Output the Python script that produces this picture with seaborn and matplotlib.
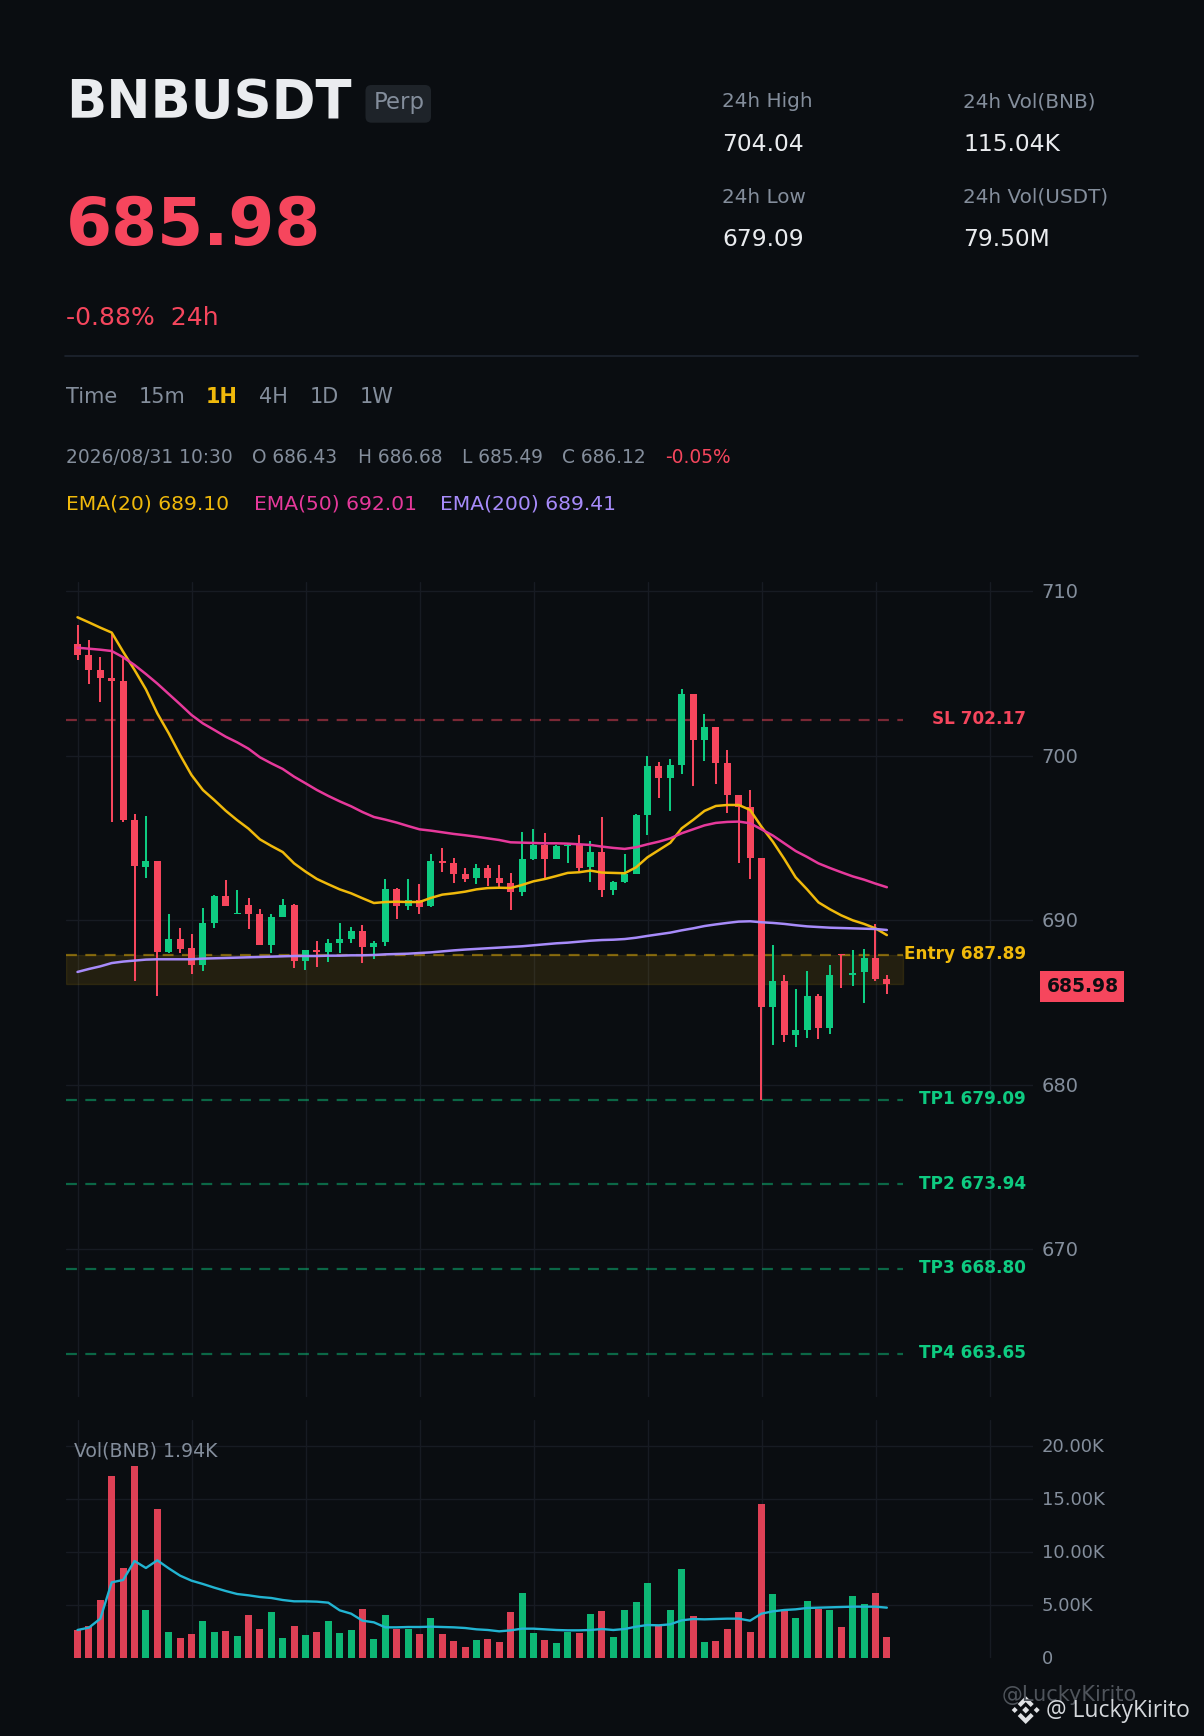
import matplotlib
matplotlib.use("Agg")
from matplotlib import pyplot as plt
from matplotlib.patches import FancyBboxPatch, Polygon, Rectangle
from matplotlib.transforms import IdentityTransform
import numpy as np
import seaborn as sns

# Candles
opens = [706.80, 706.13, 705.22, 704.73, 704.55, 696.10, 693.24, 693.61, 688.07, 688.86,
         688.32, 687.28, 689.84, 691.48, 690.38, 690.93, 690.38, 688.50, 690.20, 690.93,
         687.53, 688.20, 688.07, 688.62, 688.86, 689.35, 688.38, 688.68, 691.90, 690.87,
         691.23, 690.87, 693.61, 693.48, 692.82, 692.57, 693.18, 692.57, 692.27, 691.72,
         693.73, 694.58, 693.73, 694.52, 694.58, 693.24, 694.15, 691.84, 692.33, 692.82,
         696.40, 699.38, 698.65, 699.44, 703.76, 700.96, 701.75, 699.56, 697.62, 696.89,
         693.79, 684.73, 686.31, 683.03, 683.33, 685.40, 683.45, 687.95, 686.68, 686.86,
         687.71, 686.43]
highs = [707.95, 707.04, 706.01, 707.45, 705.93, 696.46, 696.34, 693.61, 690.38, 689.53,
         689.17, 690.75, 691.54, 692.45, 691.84, 691.36, 690.69, 690.38, 691.30, 690.99,
         688.20, 688.74, 688.86, 689.84, 689.59, 689.71, 688.74, 692.51, 691.96, 692.51,
         692.21, 694.03, 694.40, 693.79, 693.18, 693.42, 693.36, 693.36, 692.88, 695.37,
         695.55, 695.31, 694.58, 694.64, 695.19, 694.82, 696.28, 692.39, 694.03, 696.46,
         699.99, 699.62, 699.81, 704.06, 703.76, 702.54, 701.75, 700.35, 697.62, 697.92,
         693.79, 688.50, 686.68, 685.82, 686.92, 685.52, 687.28, 687.95, 688.20, 688.26,
         689.78, 686.68]
lows = [705.82, 704.37, 703.27, 696.00, 696.00, 686.31, 692.57, 685.40, 688.01, 688.01,
        686.74, 686.92, 689.53, 690.87, 690.38, 689.47, 688.50, 688.01, 690.20, 687.10,
        686.98, 687.16, 687.47, 688.01, 688.62, 687.40, 687.65, 688.44, 690.08, 690.63,
        690.38, 690.81, 692.94, 692.27, 692.33, 692.21, 692.09, 692.03, 690.63, 691.48,
        693.67, 692.51, 693.73, 693.48, 693.00, 692.33, 691.42, 691.54, 692.27, 692.82,
        695.19, 697.44, 696.65, 698.89, 698.16, 699.68, 698.29, 696.52, 693.48, 692.51,
        679.09, 682.42, 682.60, 682.30, 682.85, 682.79, 683.09, 685.88, 686.01, 684.97,
        686.32, 685.49]
closes = [706.13, 705.22, 704.73, 704.55, 696.10, 693.30, 693.61, 688.07, 688.86, 688.26,
          687.28, 689.84, 691.48, 690.87, 690.44, 690.38, 688.50, 690.20, 690.93, 687.53,
          688.20, 688.07, 688.62, 688.86, 689.35, 688.38, 688.62, 691.90, 690.87, 691.23,
          690.81, 693.61, 693.48, 692.82, 692.51, 693.18, 692.57, 692.27, 691.72, 693.73,
          694.58, 693.73, 694.52, 694.58, 693.18, 694.15, 691.84, 692.33, 692.82, 696.40,
          699.38, 698.65, 699.44, 703.76, 700.96, 701.75, 699.56, 697.62, 696.89, 693.79,
          684.73, 686.31, 683.03, 683.33, 685.40, 683.45, 686.68, 687.89, 686.80, 687.71,
          686.43, 686.12]

ema20 = [708.42, 708.11, 707.79, 707.49, 706.33, 705.22, 704.04, 702.58, 701.37, 700.05,
         698.83, 697.92, 697.31, 696.66, 696.09, 695.57, 694.92, 694.52, 694.15, 693.46,
         692.96, 692.51, 692.19, 691.88, 691.64, 691.34, 691.05, 691.11, 691.13, 691.11,
         691.11, 691.36, 691.56, 691.64, 691.74, 691.88, 691.96, 691.98, 691.96, 692.15,
         692.37, 692.51, 692.69, 692.88, 692.92, 693.02, 692.90, 692.88, 692.86, 693.22,
         693.83, 694.27, 694.71, 695.59, 696.10, 696.65, 696.95, 697.01, 697.01, 696.71,
         695.69, 694.78, 693.73, 692.61, 691.88, 691.09, 690.67, 690.30, 690.00, 689.78,
         689.51, 689.10]
ema50 = [706.57, 706.51, 706.45, 706.37, 705.99, 705.52, 704.97, 704.39, 703.76, 703.13,
         702.48, 701.97, 701.57, 701.16, 700.82, 700.43, 699.91, 699.54, 699.20, 698.73,
         698.33, 697.92, 697.56, 697.23, 696.93, 696.58, 696.28, 696.12, 695.94, 695.73,
         695.53, 695.45, 695.35, 695.25, 695.17, 695.08, 694.98, 694.88, 694.74, 694.72,
         694.70, 694.68, 694.68, 694.66, 694.62, 694.58, 694.48, 694.40, 694.34, 694.44,
         694.62, 694.78, 694.98, 695.29, 695.53, 695.77, 695.92, 695.98, 696.00, 695.90,
         695.53, 695.15, 694.68, 694.21, 693.85, 693.46, 693.18, 692.92, 692.67, 692.47,
         692.23, 692.01]
ema200 = [686.86, 687.04, 687.20, 687.40, 687.49, 687.55, 687.61, 687.63, 687.63, 687.63,
          687.63, 687.67, 687.69, 687.71, 687.73, 687.75, 687.77, 687.79, 687.81, 687.83,
          687.83, 687.83, 687.85, 687.85, 687.87, 687.87, 687.89, 687.93, 687.95, 687.97,
          688.01, 688.05, 688.11, 688.17, 688.22, 688.26, 688.30, 688.34, 688.38, 688.42,
          688.48, 688.54, 688.60, 688.64, 688.70, 688.76, 688.80, 688.82, 688.86, 688.94,
          689.05, 689.15, 689.25, 689.39, 689.51, 689.65, 689.75, 689.84, 689.92, 689.94,
          689.88, 689.84, 689.78, 689.70, 689.63, 689.59, 689.55, 689.53, 689.51, 689.49,
          689.47, 689.41]

volumes = [2642, 3019, 5472, 17172, 8492, 18115, 4529, 14058, 2453, 1887,
           2264, 3491, 2453, 2547, 2076, 4057, 2736, 4340, 1887, 3019,
           2170, 2453, 3491, 2359, 2642, 4623, 1793, 4057, 2736, 2736,
           2264, 3774, 2264, 1604, 1038, 1698, 1793, 1510, 4340, 6133,
           2359, 1698, 1415, 2453, 2359, 4151, 4434, 1981, 4529, 5284,
           7076, 3019, 4529, 8397, 3963, 1510, 1604, 2736, 4340, 2453,
           14530, 6038, 4434, 3774, 5378, 4623, 4529, 2925, 5850, 5095,
           6133, 1940]
vol_ma = [2642, 2862, 3711, 7139, 7359, 9152, 8492, 9215, 8460, 7768,
          7296, 6982, 6636, 6321, 6038, 5913, 5755, 5661, 5472, 5347,
          5347, 5315, 5221, 4497, 4183, 3522, 3365, 2893, 2893, 2925,
          2925, 2956, 2925, 2893, 2830, 2705, 2642, 2516, 2610, 2768,
          2768, 2705, 2642, 2610, 2610, 2642, 2736, 2642, 2736, 2956,
          3114, 3082, 3176, 3554, 3680, 3648, 3680, 3711, 3711, 3522,
          4183, 4403, 4529, 4592, 4718, 4749, 4780, 4812, 4843, 4843,
          4843, 4749]

level_names = ["SL", "Entry", "TP1", "TP2", "TP3", "TP4"]
level_prices = [702.17, 687.89, 679.09, 673.94, 668.80, 663.65]
entry_low = 686.13
last_price = 685.98
price_ticks = [670, 680, 690, 700, 710]
vol_ticks = [0, 5000, 10000, 15000, 20000]
vol_tick_labels = ["0", "5.00K", "10.00K", "15.00K", "20.00K"]
time_ticks = [0, 10, 20, 30, 40, 50, 60, 70, 80]

W, H = 1204, 1736
BG = "#0a0d11"
UP = "#0ecb81"
DOWN = "#f6465d"
GOLD = "#f0b90b"
PINK = "#e6399b"
PURPLE = "#a78bfa"
GREY = "#848e9c"
GRID = "#171b23"
WHITE = "#eaecef"

sns.set_theme(style="dark", rc={"figure.facecolor": BG, "axes.facecolor": BG,
                                "savefig.facecolor": BG, "axes.grid": True,
                                "grid.color": GRID, "grid.linewidth": 1.0})
plt.rcParams["font.family"] = ["DejaVu Sans"]

fig = plt.figure(figsize=(W / 100, H / 100), dpi=100)


def panel(left, top, right, bottom):
    return fig.add_axes([left / W, 1 - bottom / H, (right - left) / W, (bottom - top) / H])


def label(x, y, s, size, color, **kw):
    # x, y are pixels from the top left, y is the baseline
    fig.text(x / W, 1 - y / H, s, fontsize=size, color=color, va="baseline", **kw)


def shape(pts, color):
    # polygon in pixels from the top left, for the logo
    fig.patches.append(Polygon([(a, H - b) for a, b in pts], closed=True, transform=IdentityTransform(),
                               facecolor=color, edgecolor="none", figure=fig))


ax = panel(66, 582, 1033, 1397)
vol_ax = panel(66, 1420, 1033, 1658)

x = np.arange(len(opens))
o, h, l, c = map(np.array, (opens, highs, lows, closes))
colors = np.where(c >= o, UP, DOWN)
# candles sit a hair left of the grid
xlim = (-1.01, 83.82)
grid_shift = 0.07
zone_end = 72.4

# Entry zone and levels
ax.add_patch(Rectangle((xlim[0], entry_low), zone_end - xlim[0], level_prices[1] - entry_low,
                       facecolor=GOLD, edgecolor=GOLD, alpha=0.11, lw=1.0, zorder=1))
for name, price in zip(level_names, level_prices):
    col = DOWN if name == "SL" else GOLD if name == "Entry" else UP
    ax.plot([xlim[0], zone_end], [price, price], color=col, lw=1.6, alpha=0.48,
            dashes=(4.9, 3.8), dash_capstyle="butt", zorder=1.5)
    ax.annotate(f"{name} {price:.2f}", (1025.7 / W, price), xycoords=("figure fraction", "data"),
                xytext=(0, 0.6), textcoords="offset points", ha="right", va="center",
                color=col, fontsize=12.2, fontweight="bold")

# Candles
ax.vlines(x, l, h, colors=colors, lw=1.45, zorder=3)
ax.bar(x, np.maximum(np.abs(c - o), 0.06), bottom=np.minimum(o, c), width=0.62,
       color=colors, linewidth=0, zorder=3)

for vals, col in [(ema20, GOLD), (ema50, PINK), (ema200, PURPLE)]:
    sns.lineplot(x=x, y=vals, ax=ax, color=col, lw=1.8, errorbar=None, zorder=4)

ax.set_xlim(*xlim)
ax.set_ylim(661.02, 710.565)
ax.set_yticks(price_ticks)
ax.set_xticks(np.array(time_ticks) + grid_shift)
ax.tick_params(labelbottom=False, labelleft=False, length=0)

# Volume panel
bar_colors = [UP if cc >= oo else DOWN for oo, cc in zip(opens, closes)]
sns.barplot(x=x, y=volumes, hue=bar_colors, palette={UP: UP, DOWN: DOWN}, ax=vol_ax,
            native_scale=True, dodge=False, width=0.62, saturation=1, alpha=0.9, linewidth=0,
            legend=False, zorder=3)
sns.lineplot(x=x, y=vol_ma, ax=vol_ax, color="#22b4d2", lw=1.7, errorbar=None, zorder=4)
vol_ax.set_xlim(*xlim)
vol_ax.set_ylim(0, 22453)
vol_ax.set_yticks(vol_ticks[1:])
vol_ax.set_xticks(np.array(time_ticks) + grid_shift)
vol_ax.tick_params(labelbottom=False, labelleft=False, length=0)
vol_ax.set_xlabel("")
vol_ax.set_ylabel("")

for a in (ax, vol_ax):
    a.grid(True, color=GRID, lw=1.0)
    a.set_axisbelow(True)
    for s in a.spines.values():
        s.set_visible(False)

# Axis labels sit right of the panel
for t in price_ticks:
    ax.annotate(str(t), (1041.7 / W, t), xycoords=("figure fraction", "data"),
                xytext=(0, -1.2), textcoords="offset points",
                va="center", color=GREY, fontsize=14)
for t, s in zip(vol_ticks, vol_tick_labels):
    vol_ax.annotate(s, (1042 / W, t), xycoords=("figure fraction", "data"),
                    xytext=(0, -0.7), textcoords="offset points",
                    va="center", color=GREY, fontsize=13)

# Last price tag
fig.patches.append(Rectangle((1040 / W, 1 - 1001.7 / H), 84 / W, 30.7 / H, transform=fig.transFigure,
                             facecolor=DOWN, edgecolor="none", figure=fig))
label(1082.5, 992.5, f"{last_price:.2f}", 13.5, "#0b0e11", fontweight="bold", ha="center")

# Header
label(66, 118, "BNBUSDT", 38, WHITE, fontweight="bold")
fig.patches.append(FancyBboxPatch((365.5, H - 122.7), 65.5, 37.7,
                                  boxstyle="round,pad=0,rounding_size=6", transform=IdentityTransform(),
                                  facecolor="#1e2329", edgecolor="none", figure=fig))
label(373.5, 109, "Perp", 16.4, GREY)
label(66, 245, "685.98", 47.7, DOWN, fontweight="bold")
label(66, 325, "-0.88%  24h", 18, DOWN)
fig.add_artist(plt.Line2D([65 / W, 1138 / W], [1 - 355.7 / H] * 2, color="#1e2530", lw=1.2))

for xp, s in [(722, "24h High"), (963, "24h Vol(BNB)")]:
    label(xp, 107.3, s, 14.4, GREY)
for xp, s in [(722, "24h Low"), (963, "24h Vol(USDT)")]:
    label(xp, 202.7, s, 14.4, GREY)
for xp, s in [(722, "704.04"), (963, "115.04K")]:
    label(xp, 151, s, 16.8, WHITE)
for xp, s in [(722, "679.09"), (963, "79.50M")]:
    label(xp, 246.3, s, 16.8, WHITE)

for xp, s in [(66, "Time"), (139, "15m"), (259, "4H"), (310, "1D"), (360, "1W")]:
    label(xp, 403, s, 15, GREY)
label(206, 403, "1H", 15, GOLD, fontweight="bold")

for xp, s in [(66, "2026/08/31 10:30"), (252, "O 686.43"), (357.5, "H 686.68"),
              (462, "L 685.49"), (562, "C 686.12")]:
    label(xp, 462.7, s, 13.4, GREY)
label(665, 462.7, "-0.05%", 13.4, DOWN)

label(66, 510, "EMA(20) 689.10", 14.55, GOLD)
label(253.5, 510, "EMA(50) 692.01", 14.55, PINK)
label(440.5, 510, "EMA(200) 689.41", 14.55, PURPLE)

label(74.3, 1456.7, "Vol(BNB) 1.94K", 13.6, GREY)

# Watermarks
label(1002, 1700.7, "@LuckyKirito", 15, "#4f545b")
label(1046, 1716.7, "@ LuckyKirito", 16.5, "#d5d8dc", family="Open Sans")
cx, cy = 1025.7, 1710
mark = "#dfe1e4"
shape([(cx, cy - 14), (cx + 8, cy - 6), (cx + 5, cy - 3), (cx, cy - 8), (cx - 5, cy - 3), (cx - 8, cy - 6)], mark)
shape([(cx, cy + 14), (cx + 8, cy + 6), (cx + 5, cy + 3), (cx, cy + 8), (cx - 5, cy + 3), (cx - 8, cy + 6)], mark)
for dx, r in [(0, 3.5), (-11, 3), (11, 3)]:
    shape([(cx + dx - r, cy), (cx + dx, cy - r), (cx + dx + r, cy), (cx + dx, cy + r)], mark)

fig.savefig("out.png", dpi=100, facecolor=BG)
